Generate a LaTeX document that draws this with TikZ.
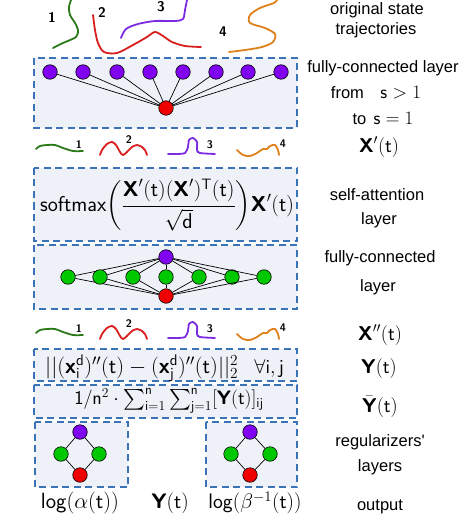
\RequirePackage{fix-cm}
\documentclass[tikz,border=0pt]{standalone}
\usepackage{amsmath}
\usepackage{fontspec}
\newfontfamily\labfont{Liberation Sans}
\definecolor{dashblue}{HTML}{3B73B9}
\definecolor{boxfill}{HTML}{EEF2F8}
\definecolor{vpurple}{HTML}{8000F0}
\definecolor{vgreen}{HTML}{00C800}
\definecolor{vred}{HTML}{F00000}
\definecolor{tgreen}{HTML}{2A7A1A}
\definecolor{tred}{HTML}{D81E1E}
\definecolor{tpurple}{HTML}{7B2BE0}
\definecolor{torange}{HTML}{E0801A}
\newcommand\bX{\textsf{\bfseries X}}
\newcommand\bY{\textsf{\bfseries Y}}
\newcommand\bx{\textsf{\bfseries x}}
\newcommand\sm[1]{\mathsf{#1}}
\tikzset{
  box/.style={draw=dashblue, fill=boxfill, dash pattern=on 7pt off 4.5pt, line width=1.3pt},
  nd/.style={circle, draw=black, minimum size=14.5pt, inner sep=0pt, line width=0.6pt},
  pn/.style={nd, fill=vpurple},
  gn/.style={nd, fill=vgreen},
  rn/.style={nd, fill=vred},
  edge/.style={draw=black, line width=0.7pt},
  lab/.style={font=\labfont\fontsize{16.5}{19}\selectfont, inner sep=0pt},
  mth/.style={font=\fontsize{20}{23}\selectfont, inner sep=0pt},
  traj/.style={line width=1.8pt, line cap=round, line join=round},
  bignum/.style={font=\sffamily\bfseries\fontsize{14}{16}\selectfont, inner sep=0pt},
  smallnum/.style={font=\sffamily\bfseries\fontsize{11}{13}\selectfont, inner sep=0pt},
}
\begin{document}
\begin{tikzpicture}[x=1pt,y=-1pt]
\useasboundingbox (0,0) rectangle (474,521);
% top trajectories
\draw[traj, tgreen] plot[smooth] coordinates {(53,48) (63,43) (76,37) (78,30) (75,23) (70,15) (69,7) (71,0)};
\draw[traj, tred] plot[smooth] coordinates {(93,15) (95,30) (98,43) (104,52) (117,53) (133,45) (147,37) (155,32) (163,36) (172,42) (185,46) (201,47)};
\draw[traj, tpurple] plot[smooth] coordinates {(121,38) (126,29) (138,24) (155,21) (175,21) (183,19) (185,10) (187,0)};
\draw[traj, torange] plot[smooth] coordinates {(229,52) (245,50) (262,47) (273,42) (275,34) (265,28) (250,23) (250,15) (260,8) (274,3) (277,0)};
\node[bignum] (n1) at (52,17) {1};
\node[bignum] (n2) at (102,12) {2};
\node[bignum] (n3) at (161,7) {3};
\node[bignum] (n4) at (223,32) {4};
% box 1
\path[box] (34,58) rectangle (297,128);
\foreach \i/\x in {1/50,2/83,3/117,4/150,5/183,6/216,7/248,8/281}
  \node[pn] (p\i) at (\x,72) {};
\node[rn] (r1) at (166,108) {};
\foreach \i in {1,...,8} \draw[edge] (p\i) -- (r1);
% small trajectories rows
\foreach \dy in {0,184}{
\begin{scope}[shift={(0,\dy)}]
\draw[traj, tgreen] plot[smooth] coordinates {(36,149) (40,146) (47,145) (55,145) (63,148) (73,151) (83,151)};
\draw[traj, tred] plot[smooth] coordinates {(100,155) (102,150) (107,144) (112,142) (116,145) (120,152) (123,155) (127,152) (132,147) (137,145) (142,147) (145,150) (147,155)};
\draw[traj, tpurple] plot[smooth] coordinates {(168,154) (177,154) (185,153) (188,147) (189,140) (193,138) (197,142) (197,150) (200,153) (215,154)};
\draw[traj, torange] plot[smooth] coordinates {(237,150) (243,155) (250,156) (257,153) (263,149) (267,149) (270,146) (275,145) (278,150) (279,155)};
\node[smallnum] (s1-\dy) at (79,145) {1};
\node[smallnum] (s2-\dy) at (129,140) {2};
\node[smallnum] (s3-\dy) at (210,145) {3};
\node[smallnum] (s4-\dy) at (283,144) {4};
\end{scope}}
% box 2 softmax
\path[box] (34,168) rectangle (297,241);
\node[mth, font=\fontsize{21.5}{24}\selectfont] (soft) at (167,205) {$\sm{softmax}\!\left(\dfrac{\bX'(\sm t)(\bX')^{\sm T}(\sm t)}{\sqrt{\sm d}}\right)\!\bX'(\sm t)$};
% box 3
\path[box] (34,245) rectangle (297,309);
\node[pn] (q) at (166,257) {};
\node[rn] (r2) at (166,296) {};
\foreach \i/\x in {1/68,2/100,3/133,4/166,5/199,6/232,7/264}{
  \node[gn] (g\i) at (\x,277) {};
  \draw[edge] (q) -- (g\i);
  \draw[edge] (g\i) -- (r2);}
% box 4
\path[box] (34,349) rectangle (297,381);
\node[mth, font=\fontsize{22}{24}\selectfont, anchor=base west] (dist) at (45,373) {$||(\bx_{\sm i}^{\sm d})''(\sm t)-(\bx_{\sm j}^{\sm d})''(\sm t)||_2^2$};
\node[mth, anchor=base east] (forall) at (284,373) {$\forall \sm i,\sm j$};
% box 5
\path[box] (34,385) rectangle (297,418);
\node[mth, font=\fontsize{19.5}{22}\selectfont] (avg) at (169,401) {$\sm{1}/\sm n^2\cdot\sum_{\sm i=1}^{\sm n}\sum_{\sm j=1}^{\sm n}[\bY(\sm t)]_{\sm{ij}}$};
% box 6
\path[box] (35,422) rectangle (128,487);
\path[box] (206,422) rectangle (297,487);
\node[pn] (la) at (80,432) {};
\node[gn] (lb) at (61,454) {};
\node[gn] (lc) at (99,454) {};
\node[rn] (ld) at (80,475) {};
\draw[edge] (la) -- (lb); \draw[edge] (la) -- (lc);
\draw[edge] (lb) -- (ld); \draw[edge] (lc) -- (ld);
\node[pn] (ra) at (250,432) {};
\node[gn] (rb) at (231,454) {};
\node[gn] (rc) at (270,454) {};
\node[rn] (rd) at (250,475) {};
\draw[edge] (ra) -- (rb); \draw[edge] (ra) -- (rc);
\draw[edge] (rb) -- (rd); \draw[edge] (rc) -- (rd);
% outputs
\node[mth, font=\fontsize{22}{24}\selectfont] (oa) at (80,503) {$\sm{log}(\alpha(\sm t))$};
\node[mth, font=\fontsize{21}{24}\selectfont] (ob) at (170,503) {$\bY(\sm t)$};
\node[mth, font=\fontsize{21}{24}\selectfont] (oc) at (255,503) {$\sm{log}(\beta^{-1}(\sm t))$};
% right labels
\node[lab] (t1) at (377,10) {original state};
\node[lab] (t2) at (376,30) {trajectories};
\node[lab] (t3) at (383,68) {fully-connected layer};
\node[lab] (t4) at (376,93) {from\quad{\fontsize{19}{22}\selectfont$\sm s>1$}};
\node[lab] (t5) at (383,118) {to\;\,{\fontsize{19}{22}\selectfont$\sm s=1$}};
\node[mth] (t6) at (379,147) {$\bX'(\sm t)$};
\node[lab] (t7) at (377,195) {self-attention};
\node[lab] (t8) at (379,220) {layer};
\node[lab] (t9) at (380,258) {fully-connected};
\node[lab] (t10) at (378,287) {layer};
\node[mth] (t11) at (380,335) {$\bX''(\sm t)$};
\node[mth] (t12) at (379,368) {$\bY(\sm t)$};
\node[mth] (t13) at (380,407) {$\bar{\bY}(\sm t)$};
\node[lab] (t14) at (380,442) {regularizers'};
\node[lab] (t15) at (380,467) {layers};
\node[lab] (t16) at (380,507) {output};
\end{tikzpicture}
\end{document}
